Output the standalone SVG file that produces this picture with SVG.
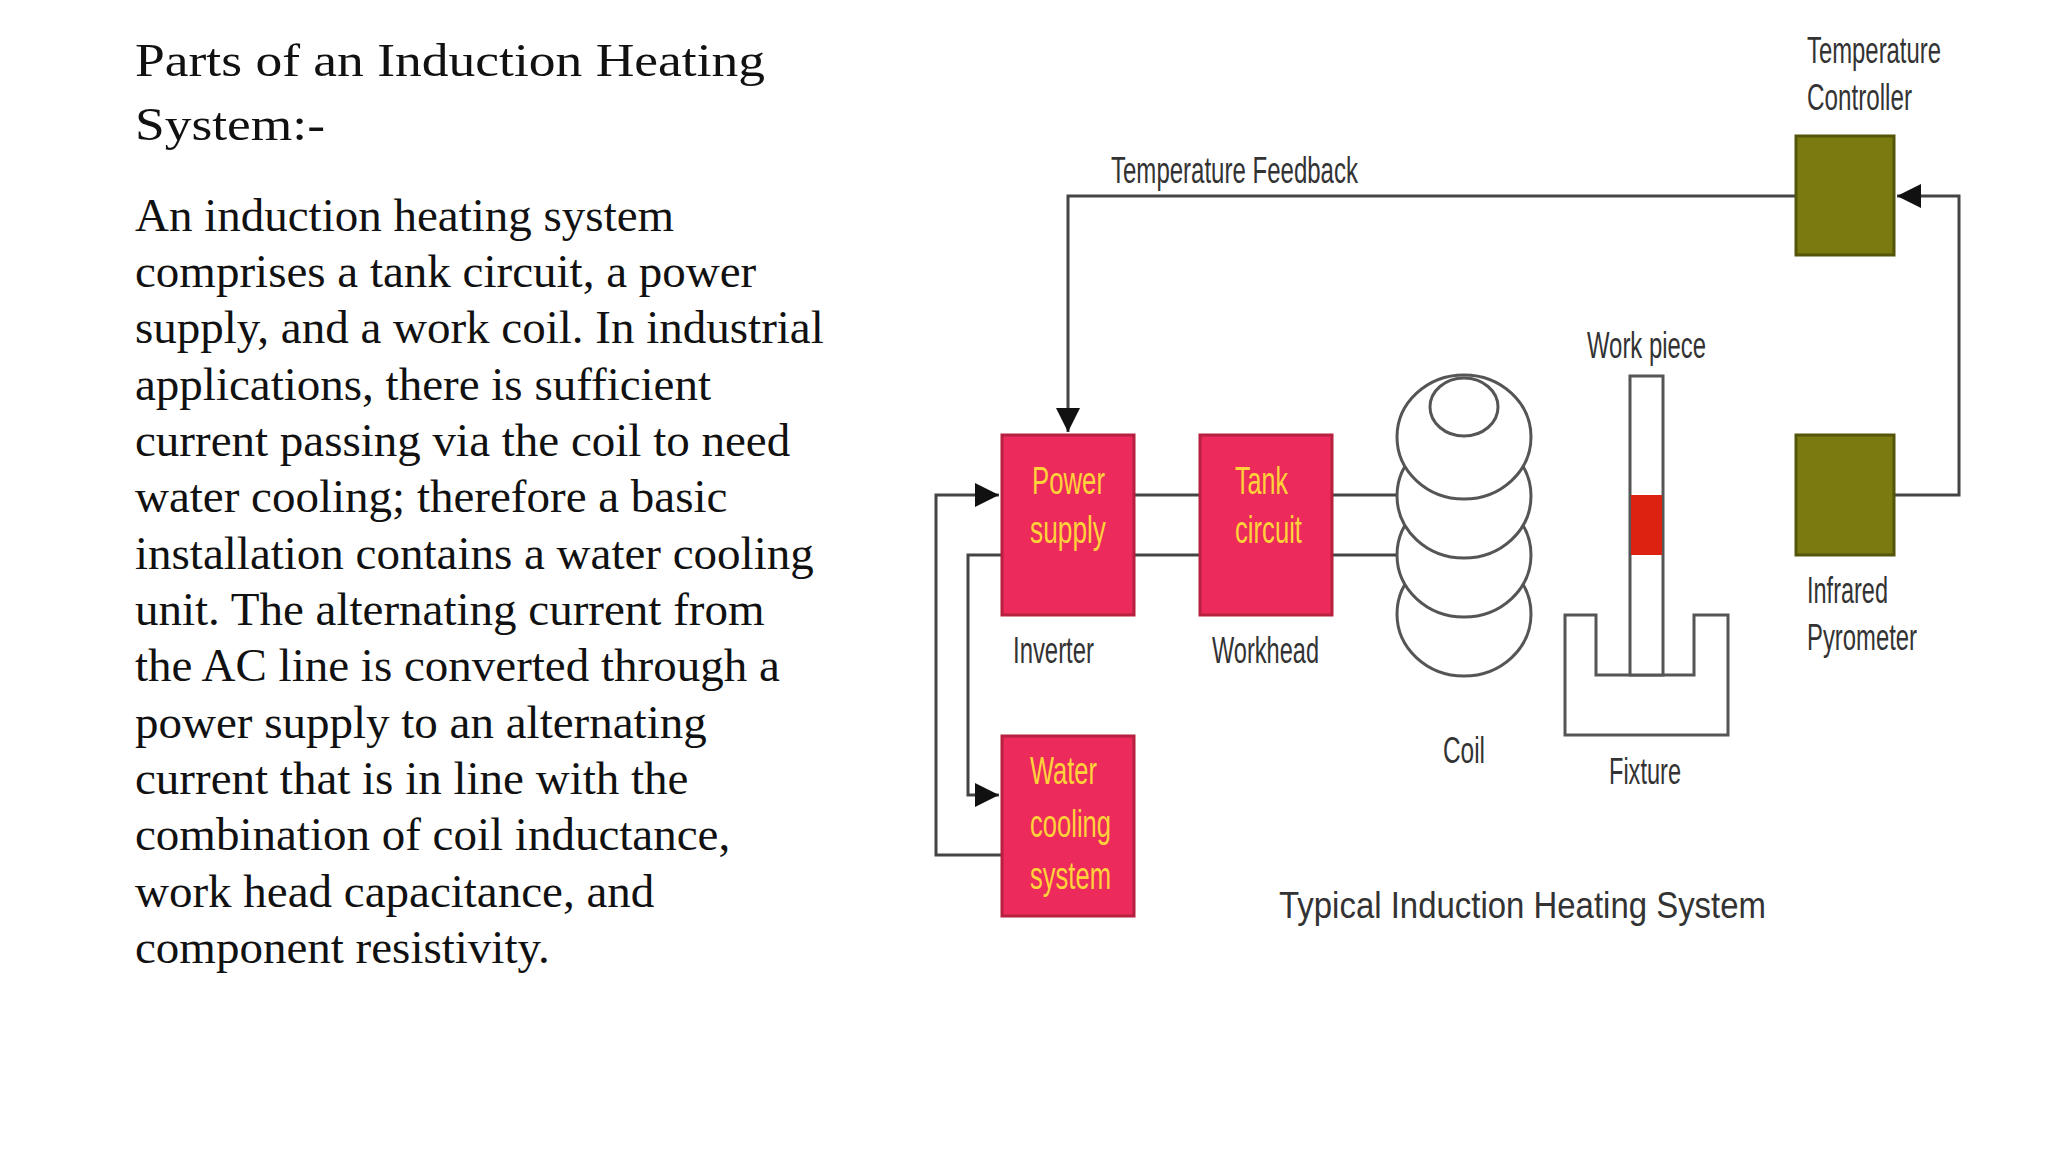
<svg xmlns="http://www.w3.org/2000/svg" width="2048" height="1152" viewBox="0 0 2048 1152">
<style>
.body{font-family:"Liberation Serif",serif;font-size:47px;fill:#111}
.lbl{font-family:"Liberation Sans",sans-serif;font-size:36px;fill:#333}
.in{font-family:"Liberation Sans",sans-serif;font-size:38px;fill:#ffd23a}
.pink{fill:#ec2a5c;stroke:#b8203f;stroke-width:3}
.olive{fill:#7a7a10;stroke:#55550a;stroke-width:3}
.ln{fill:none;stroke:#444;stroke-width:3}
.sh{fill:#fff;stroke:#555;stroke-width:3}
</style>
<defs>
<marker id="a" viewBox="0 0 10 10" refX="10" refY="5" markerWidth="24" markerHeight="24" orient="auto" markerUnits="userSpaceOnUse"><path d="M0,0L10,5L0,10z" fill="#111"/></marker></defs>
<rect width="2048" height="1152" fill="#fff"/>
<g id="heading"><text class="body" x="135" y="76" font-size="50" textLength="630" lengthAdjust="spacingAndGlyphs">Parts of an Induction Heating</text><text class="body" x="135" y="140" font-size="50" textLength="190" lengthAdjust="spacingAndGlyphs">System:-</text></g>
<g id="paragraph" class="body">
<text x="135" y="231">An induction heating system</text>
<text x="135" y="287">comprises a tank circuit, a power</text>
<text x="135" y="343">supply, and a work coil. In industrial</text>
<text x="135" y="400">applications, there is sufficient</text>
<text x="135" y="456">current passing via the coil to need</text>
<text x="135" y="512">water cooling; therefore a basic</text>
<text x="135" y="569">installation contains a water cooling</text>
<text x="135" y="625">unit. The alternating current from</text>
<text x="135" y="681">the AC line is converted through a</text>
<text x="135" y="738">power supply to an alternating</text>
<text x="135" y="794">current that is in line with the</text>
<text x="135" y="850">combination of coil inductance,</text>
<text x="135" y="907">work head capacitance, and</text>
<text x="135" y="963">component resistivity.</text>
</g>
<g id="connectors">
<path class="ln" d="M1796,196H1068V432" marker-end="url(#a)"/>
<path class="ln" d="M1894,495H1959V196H1897" marker-end="url(#a)"/>
<path class="ln" d="M1002,855H936V495H999" marker-end="url(#a)"/>
<path class="ln" d="M1002,555H968V795H999" marker-end="url(#a)"/>
<path class="ln" d="M1134,495H1200M1134,555H1200M1332,495H1400M1332,555H1400"/>
</g>
<g id="power-supply"><rect class="pink" x="1002" y="435" width="132" height="180"/><text class="in" x="1032" y="494" textLength="73" lengthAdjust="spacingAndGlyphs">Power</text><text class="in" x="1030" y="543" textLength="76" lengthAdjust="spacingAndGlyphs">supply</text><text class="lbl" x="1013" y="663" textLength="81" lengthAdjust="spacingAndGlyphs">Inverter</text></g>
<g id="tank-circuit"><rect class="pink" x="1200" y="435" width="132" height="180"/><text class="in" x="1235" y="494" textLength="53" lengthAdjust="spacingAndGlyphs">Tank</text><text class="in" x="1235" y="543" textLength="67" lengthAdjust="spacingAndGlyphs">circuit</text><text class="lbl" x="1212" y="663" textLength="107" lengthAdjust="spacingAndGlyphs">Workhead</text></g>
<g id="water-cooling"><rect class="pink" x="1002" y="736" width="132" height="180"/><text class="in" x="1030" y="784" textLength="67" lengthAdjust="spacingAndGlyphs">Water</text><text class="in" x="1030" y="837" textLength="81" lengthAdjust="spacingAndGlyphs">cooling</text><text class="in" x="1030" y="889" textLength="81" lengthAdjust="spacingAndGlyphs">system</text></g>
<g id="coil">
<ellipse class="sh" cx="1464" cy="614" rx="67" ry="62"/>
<ellipse class="sh" cx="1464" cy="555" rx="67" ry="62"/>
<ellipse class="sh" cx="1464" cy="496" rx="67" ry="62"/>
<ellipse class="sh" cx="1464" cy="437" rx="67" ry="62"/>
<ellipse class="sh" cx="1464" cy="407" rx="34" ry="29"/>
<text class="lbl" x="1443" y="763" textLength="42" lengthAdjust="spacingAndGlyphs">Coil</text></g>
<g id="fixture"><path class="sh" d="M1565,615V735H1728V615H1694V675H1596V615Z"/><text class="lbl" x="1609" y="784" textLength="72" lengthAdjust="spacingAndGlyphs">Fixture</text></g>
<g id="work-piece"><rect class="sh" x="1630" y="376" width="33" height="299"/><rect x="1631" y="495" width="31" height="60" fill="#dd2211"/><text class="lbl" x="1587" y="358" textLength="119" lengthAdjust="spacingAndGlyphs">Work piece</text></g>
<g id="temperature-controller"><rect class="olive" x="1796" y="136" width="98" height="119"/><text class="lbl" x="1807" y="63" textLength="134" lengthAdjust="spacingAndGlyphs">Temperature</text><text class="lbl" x="1807" y="110" textLength="105" lengthAdjust="spacingAndGlyphs">Controller</text></g>
<g id="infrared-pyrometer"><rect class="olive" x="1796" y="435" width="98" height="120"/><text class="lbl" x="1807" y="603" textLength="81" lengthAdjust="spacingAndGlyphs">Infrared</text><text class="lbl" x="1807" y="650" textLength="110" lengthAdjust="spacingAndGlyphs">Pyrometer</text></g>
<text class="lbl" x="1111" y="183" textLength="247" lengthAdjust="spacingAndGlyphs">Temperature Feedback</text>
<text class="lbl" x="1279" y="918" font-size="56" fill="#222" textLength="487" lengthAdjust="spacingAndGlyphs">Typical Induction Heating System</text>
</svg>
